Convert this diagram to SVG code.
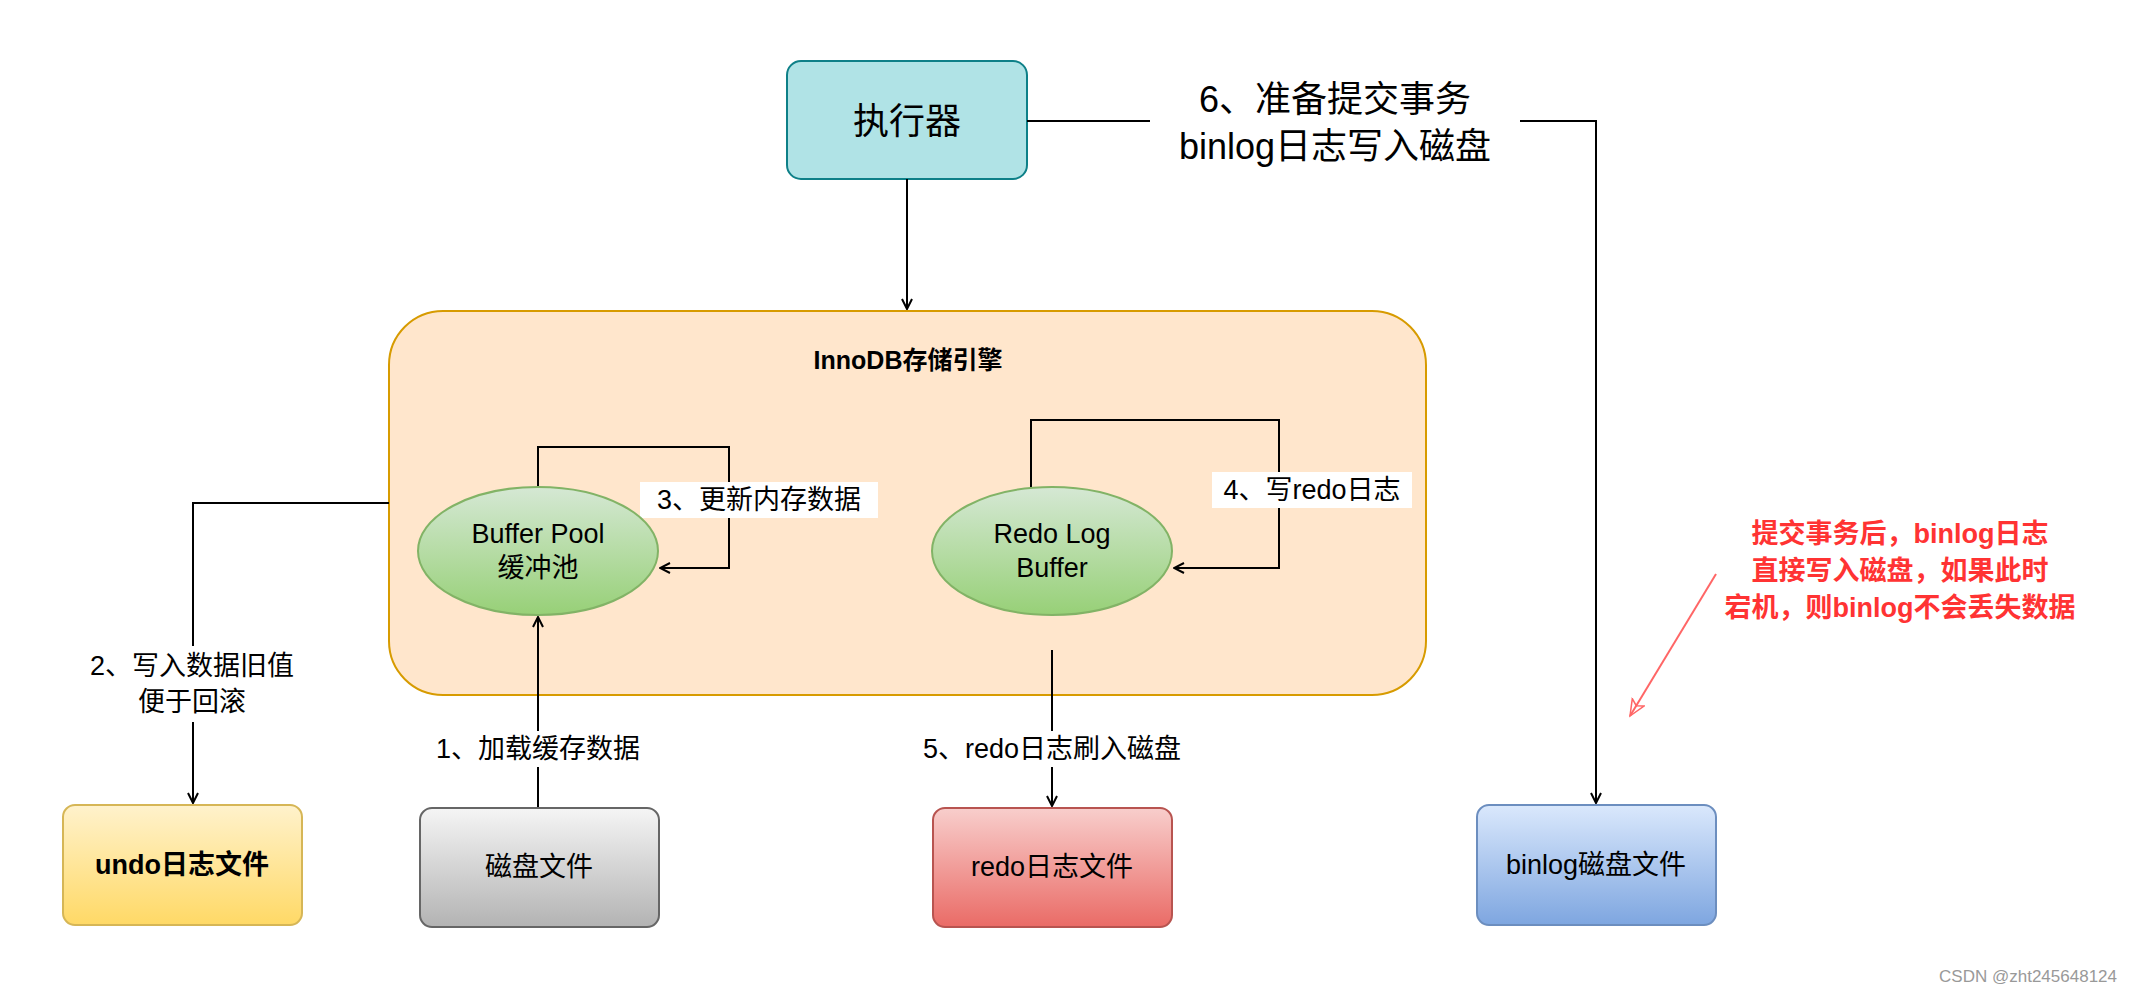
<svg xmlns="http://www.w3.org/2000/svg" width="2132" height="992" viewBox="0 0 2132 992">
<defs>
<style>
text{font-family:"Liberation Sans","Noto Sans CJK SC",sans-serif;fill:#000;text-anchor:middle;dominant-baseline:central}
.c{fill:none;stroke:#000;stroke-width:2}
.lbl{font-size:27px}
.bg{fill:#fff}
</style>
<marker id="a" markerWidth="12" markerHeight="12" refX="11" refY="6" orient="auto" markerUnits="userSpaceOnUse"><path d="M1,1 L11,6 L1,11" fill="none" stroke="#000" stroke-width="2"/></marker>
<marker id="r" markerWidth="20" markerHeight="20" refX="17" refY="8" orient="auto" markerUnits="userSpaceOnUse"><path d="M1,1 L17,8 L1,15 L5,8 Z" fill="none" stroke="#ff6666" stroke-width="1.5"/></marker>
<linearGradient id="g" x1="0" y1="0" x2="0" y2="1"><stop offset="0" stop-color="#d5e8d4"/><stop offset="1" stop-color="#97d077"/></linearGradient>
<linearGradient id="y" x1="0" y1="0" x2="0" y2="1"><stop offset="0" stop-color="#fff2cc"/><stop offset="1" stop-color="#ffd966"/></linearGradient>
<linearGradient id="k" x1="0" y1="0" x2="0" y2="1"><stop offset="0" stop-color="#f5f5f5"/><stop offset="1" stop-color="#b3b3b3"/></linearGradient>
<linearGradient id="rd" x1="0" y1="0" x2="0" y2="1"><stop offset="0" stop-color="#f8cecc"/><stop offset="1" stop-color="#ea6b66"/></linearGradient>
<linearGradient id="b" x1="0" y1="0" x2="0" y2="1"><stop offset="0" stop-color="#dae8fc"/><stop offset="1" stop-color="#7ea6e0"/></linearGradient>
</defs>
<rect width="2132" height="992" fill="#fff"/>
<g id="innodb"><rect x="389" y="311" width="1037" height="384" rx="54" fill="#ffe6cc" stroke="#d79b00" stroke-width="2"/><text x="908" y="360" font-size="25" font-weight="bold">InnoDB存储引擎</text></g>
<g id="executor"><rect x="787" y="61" width="240" height="118" rx="14" fill="#b0e3e6" stroke="#0e8088" stroke-width="2"/><text x="907" y="121" font-size="36">执行器</text></g>
<g id="connectors">
<path class="c" d="M907,179 V309" marker-end="url(#a)"/>
<path class="c" d="M1027,121 H1596 V803" marker-end="url(#a)"/>
<path class="c" d="M389,503 H193 V803" marker-end="url(#a)"/>
<path class="c" d="M538,808 V617" marker-end="url(#a)"/>
<path class="c" d="M1052,650 V806" marker-end="url(#a)"/>
<path class="c" d="M538,487 V447 H729 V568 H660" marker-end="url(#a)"/>
<path class="c" d="M1031,490 V420 H1279 V568 H1174" marker-end="url(#a)"/>
<path d="M1716,574 L1630,716" fill="none" stroke="#ff6666" stroke-width="2" marker-end="url(#r)"/>
<rect class="bg" x="1150" y="76" width="370" height="92"/>
<text x="1335" y="99" font-size="36">6、准备提交事务</text>
<text x="1335" y="146" font-size="36">binlog日志写入磁盘</text>
<rect class="bg" x="640" y="482" width="238" height="36"/>
<text class="lbl" x="759" y="500">3、更新内存数据</text>
<rect class="bg" x="1212" y="472" width="200" height="36"/>
<text class="lbl" x="1312" y="490">4、写redo日志</text>
<rect class="bg" x="80" y="646" width="225" height="76"/>
<text class="lbl" x="192" y="666">2、写入数据旧值</text>
<text class="lbl" x="192" y="702">便于回滚</text>
<rect class="bg" x="425" y="731" width="226" height="36"/>
<text class="lbl" x="538" y="749">1、加载缓存数据</text>
<rect class="bg" x="900" y="731" width="304" height="36"/>
<text class="lbl" x="1052" y="749">5、redo日志刷入磁盘</text>
</g>
<g id="bufferpool"><ellipse cx="538" cy="551" rx="120" ry="64" fill="url(#g)" stroke="#82b366" stroke-width="2"/><text class="lbl" x="538" y="534">Buffer Pool</text><text class="lbl" x="538" y="568">缓冲池</text></g>
<g id="redobuffer"><ellipse cx="1052" cy="551" rx="120" ry="64" fill="url(#g)" stroke="#82b366" stroke-width="2"/><text class="lbl" x="1052" y="534">Redo Log</text><text class="lbl" x="1052" y="568">Buffer</text></g>
<g id="undo"><rect x="63" y="805" width="239" height="120" rx="12" fill="url(#y)" stroke="#d6b656" stroke-width="2"/><text class="lbl" x="182" y="865" font-weight="bold">undo日志文件</text></g>
<g id="disk"><rect x="420" y="808" width="239" height="119" rx="12" fill="url(#k)" stroke="#666" stroke-width="2"/><text class="lbl" x="539" y="867">磁盘文件</text></g>
<g id="redofile"><rect x="933" y="808" width="239" height="119" rx="12" fill="url(#rd)" stroke="#b85450" stroke-width="2"/><text class="lbl" x="1052" y="867">redo日志文件</text></g>
<g id="binlog"><rect x="1477" y="805" width="239" height="120" rx="12" fill="url(#b)" stroke="#6c8ebf" stroke-width="2"/><text class="lbl" x="1596" y="865">binlog磁盘文件</text></g>
<g id="note" font-weight="bold" font-size="27"><text x="1900" y="534" style="fill:#ff3333">提交事务后，binlog日志</text><text x="1900" y="571" style="fill:#ff3333">直接写入磁盘，如果此时</text><text x="1900" y="608" style="fill:#ff3333">宕机，则binlog不会丢失数据</text></g>
<text x="2117" y="976" font-size="17" style="fill:#999;text-anchor:end">CSDN @zht245648124</text>
</svg>
